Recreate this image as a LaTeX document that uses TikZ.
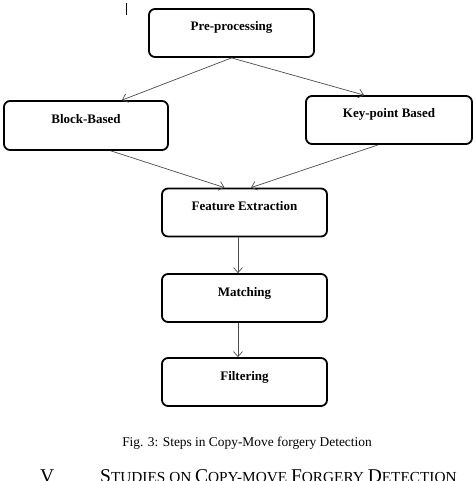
\documentclass[tikz,border=0pt]{standalone}
\usepackage{fontspec}
\setmainfont{Liberation Serif}
\usetikzlibrary{positioning,arrows.meta}
\tikzset{
  stepbox/.style={draw=black,line width=1.8pt,rounded corners=6pt,
    minimum width=165pt,minimum height=48pt,inner ysep=3pt,
    text height=19pt,text depth=23pt,font=\fontsize{13}{15}\selectfont\bfseries},
  flow/.style={draw=black!70,line width=0.7pt,-{Straight Barb[length=5pt,width=9pt]}}
}
\begin{document}
\begin{tikzpicture}[x=1pt,y=-1pt]
  \useasboundingbox[fill=white] (0,0) rectangle (474,481);
  \draw[line width=1pt] (126,3) -- (126,15);
  \node[stepbox] (pre) at (231.5,33) {Pre-processing};
  \node[stepbox,minimum width=164pt,minimum height=49pt] (block) at (86,125.5) {Block-Based};
  \node[stepbox,minimum width=166pt] (key) at (389,120) {Key-point Based};
  \node[stepbox] (feat) at (244.5,212.5) {Feature Extraction};
  \node[stepbox] (match) at (244.5,298) {Matching};
  \node[stepbox] (filt) at (244.5,382) {Filtering};
  % connectors
  \draw[flow] (pre.south) -- ([xshift=36pt]block.north);
  \draw[flow] (pre.south) -- ([xshift=-25pt]key.north);
  \draw[flow] ([xshift=25pt]block.south) -- ([xshift=-20pt]feat.north);
  \draw[flow] ([xshift=-11pt]key.south) -- ([xshift=6.5pt]feat.north);
  \draw[flow] ([xshift=-6.5pt]feat.south) -- ([xshift=-6.5pt]match.north);
  \draw[flow] ([xshift=-6.5pt]match.south) -- ([xshift=-6.5pt]filt.north);
  \node[font=\fontsize{13.4}{15}\selectfont] (cap) at (247,443) {Fig. 3: Steps in Copy-Move forgery Detection};
  \begin{scope}
    \clip (0,0) rectangle (474,481);
    \node[anchor=base west,inner sep=0pt,font=\fontsize{19.5}{22}\selectfont] (secnum) at (40,482) {V};
    \node[anchor=base west,inner sep=0pt,font=\fontsize{19.5}{22}\selectfont] (sectitle) at (100,482)
      {S{\fontsize{15.3}{17}\selectfont TUDIES ON }C{\fontsize{15.3}{17}\selectfont OPY-MOVE }F{\fontsize{15.3}{17}\selectfont ORGERY }D{\fontsize{15.3}{17}\selectfont ETECTION}};
  \end{scope}
\end{tikzpicture}
\end{document}
